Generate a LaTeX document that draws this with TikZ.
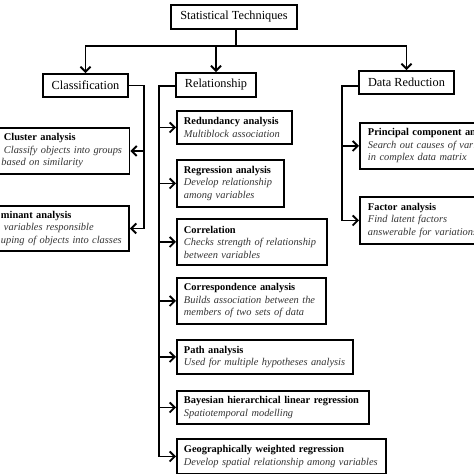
\documentclass[tikz,border=0pt]{standalone}
\usepackage{fontspec}
\setmainfont{Liberation Serif}
\usetikzlibrary{arrows.meta}
\definecolor{subc}{HTML}{333333}
\newcommand{\ttl}[1]{\textbf{#1}}
\newcommand{\sbt}[1]{\textcolor{subc}{\textit{#1}}}
\tikzset{
  head/.style={draw, line width=1.9pt, font=\fontsize{12.3}{14}\selectfont, inner sep=0pt},
  item/.style={draw, line width=1.9pt, font=\fontsize{10.4}{12.5}\selectfont, align=left,
    anchor=north west, inner xsep=7pt, inner ysep=2pt},
  conn/.style={line width=1.9pt},
  arr/.style={conn, -{Straight Barb[length=5pt,width=10pt]}},
}
\begin{document}
\begin{tikzpicture}[x=1pt,y=-1pt]
\useasboundingbox (0,0) rectangle (474,474);
\clip (0,0) rectangle (474,474);
% headings
\node[head, minimum width=126pt, minimum height=24pt] (ST) at (234,17) {Statistical Techniques};
\node[head, minimum width=85pt, minimum height=23pt] (Cl) at (85.5,85.5) {Classification};
\node[head, minimum width=80pt, minimum height=24pt] (Rel) at (216,85) {Relationship};
\node[head, minimum width=95pt, minimum height=23pt] (DR) at (406.5,82.5) {Data Reduction};
% classification items (clipped on the left)
\node[item, text width=121pt, minimum height=46pt] (Clu) at (-6.5,127)
  {\hspace*{2.5pt}\ttl{Cluster analysis}\\\hspace*{2.5pt}\sbt{Classify objects into groups}\\\sbt{based on similarity}};
\node[item, text width=121pt, minimum height=45pt] (Dis) at (-7,205)
  {\ttl{minant analysis}\\\hspace*{3pt}\sbt{variables responsible}\\\sbt{uping of objects into classes}};
% relationship items
\node[item, text width=101pt, minimum height=33pt] (Red) at (176,110)
  {\ttl{Redundancy analysis}\\\sbt{Multiblock association}};
\node[item, text width=93pt, minimum height=47pt] (Reg) at (176,159)
  {\ttl{Regression analysis}\\\sbt{Develop relationship}\\\sbt{among variables}};
\node[item, text width=136pt, minimum height=46pt] (Cor) at (176,218)
  {\ttl{Correlation}\\\sbt{Checks strength of relationship}\\\sbt{between variables}};
\node[item, text width=135pt, minimum height=46pt] (Csp) at (176,277)
  {\ttl{Correspondence analysis}\\\sbt{Builds association between the}\\\sbt{members of two sets of data}};
\node[item, text width=162pt, minimum height=34pt] (Pat) at (176,339)
  {\ttl{Path analysis}\\\sbt{Used for multiple hypotheses analysis}};
\node[item, text width=178pt, minimum height=33pt] (Bay) at (176,390)
  {\ttl{Bayesian hierarchical linear regression}\\\sbt{Spatiotemporal modelling}};
\node[item, text width=195pt, minimum height=35pt] (GWR) at (176,438)
  {\ttl{Geographically weighted regression}\\\sbt{Develop spatial relationship among variables}};
% data reduction items (clipped on the right)
\node[item, text width=130pt, minimum height=46pt, inner xsep=8pt] (PCA) at (359,122)
  {\ttl{Principal component an}\\\sbt{Search out causes of vari}\\\sbt{in complex data matrix}};
\node[item, text width=130pt, minimum height=47pt, inner xsep=8pt] (Fac) at (359,196)
  {\ttl{Factor analysis}\\\sbt{Find latent factors}\\\sbt{answerable for variations}};
% top connectors
\coordinate (j) at (236,46);
\draw[conn] (ST.south -| j) -- (j);
\draw[arr] (j) -| (Cl);
\draw[arr] (j) -| (Rel);
\draw[arr] (j) -| (DR);
% classification connectors
\draw[arr] (Cl.east) -- ++(15,0) coordinate (c1) |- (Dis.east);
\draw[arr] (c1 |- Clu.east) -- (Clu.east);
% relationship connectors
\draw[arr] ([yshift=-1pt]Rel.west) -- ++(-16,0) coordinate (r1) |- (GWR.west);
\foreach \n in {Red,Reg,Cor,Csp,Pat,Bay}{
  \draw[arr] (r1 |- \n.west) -- (\n.west);
}
% data reduction connectors
\draw[arr] ([yshift=-3.5pt]DR.west) -- ++(-16,0) coordinate (d1) |- (Fac.west);
\draw[arr] (d1 |- PCA.west) -- (PCA.west);
\end{tikzpicture}
\end{document}
